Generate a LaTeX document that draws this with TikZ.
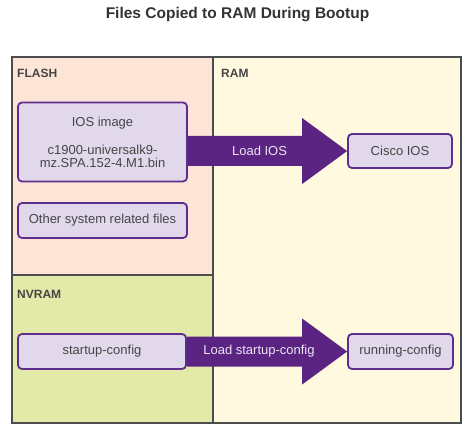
\documentclass[tikz,border=0pt]{standalone}
\usepackage{fontspec}
\setmainfont{Liberation Sans}
\usetikzlibrary{calc,backgrounds}

\definecolor{flashfill}{HTML}{FCE4D6}
\definecolor{ramfill}{HTML}{FFF9E0}
\definecolor{nvramfill}{HTML}{E3E9A8}
\definecolor{boxfill}{HTML}{E2D8EC}
\definecolor{boxline}{HTML}{5D2E8C}
\definecolor{arrowfill}{HTML}{5B2483}
\definecolor{frameline}{HTML}{4D4D4D}
\definecolor{textgrey}{HTML}{454545}

\tikzset{
    region/.style={draw=frameline,line width=1.5pt},
    memlabel/.style={anchor=base west,inner sep=0pt,font=\fontsize{12}{12}\selectfont\bfseries,text=textgrey},
    filebox/.style={draw=boxline,fill=boxfill,line width=1.8pt,rounded corners=4pt,
        align=center,inner sep=2pt,font=\fontsize{13}{12.5}\selectfont,text=textgrey},
    loadfill/.style={fill=arrowfill},
    loadtext/.style={inner sep=0pt,font=\fontsize{13}{13}\selectfont,text=boxfill!70!white}
}

% wide arrow from one box to the next
\newcommand{\loadarrow}[3]{%
    \fill[loadfill] ($(#1.east |- #2.west)+(0,15)$) -- ($(#2.west)+(-45,15)$)
        -- ($(#2.west)+(-45,33)$) -- (#2.west) -- ($(#2.west)+(-45,-33)$)
        -- ($(#2.west)+(-45,-15)$) -- ($(#1.east |- #2.west)+(0,-15)$) -- cycle;
    \node[loadtext] (load#2) at ($(#1.east |- #2.west)!0.45!(#2.west)$) {#3};
}

\begin{document}
\begin{tikzpicture}[x=1pt,y=1pt]
    \useasboundingbox (0,0) rectangle (474,437);

    \node[font=\fontsize{15.5}{15.5}\selectfont\bfseries,text=black!80] (title) at (237.5,422) {Files Copied to RAM During Bootup};

    % memory areas
    \begin{scope}[on background layer]
        \filldraw[region,fill=ramfill] (213,14) rectangle (461,380);
        \filldraw[region,fill=flashfill] (12,162) rectangle (213,380);
        \filldraw[region,fill=nvramfill] (12,14) rectangle (213,162);
    \end{scope}
    \node[memlabel] (flash) at (17,359) {FLASH};
    \node[memlabel] (ram) at (221,359) {RAM};
    \node[memlabel] (nvram) at (17,138.7) {NVRAM};

    % files
    \node[filebox,minimum width=169pt,minimum height=79pt] (ios) at (102.5,295)
        {IOS image\\[16pt]c1900-universalk9-\\mz.SPA.152-4.M1.bin};
    \node[filebox,minimum width=169pt,minimum height=35pt] (other) at (102.5,216.5) {Other system related files};
    \node[filebox,minimum width=104pt,minimum height=34pt] (cisco) at (400,286) {Cisco IOS};
    \node[filebox,minimum width=168pt,minimum height=35pt] (startup) at (102,85.5) {startup-config};
    \node[filebox,minimum width=105pt,minimum height=35pt] (running) at (400.5,85.5) {running-config};

    % copies
    \begin{scope}[on background layer]
        \loadarrow{ios}{cisco}{Load IOS}
        \loadarrow{startup}{running}{Load startup-config}
    \end{scope}
\end{tikzpicture}
\end{document}
